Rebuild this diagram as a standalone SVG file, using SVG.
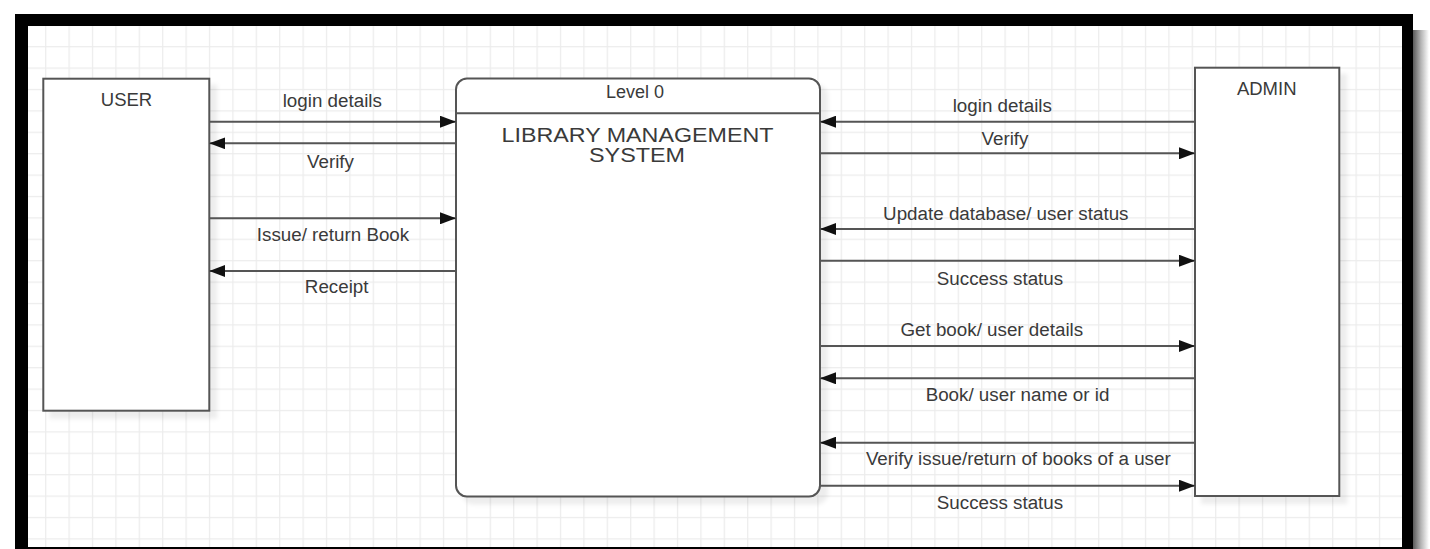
<svg xmlns="http://www.w3.org/2000/svg" width="1430" height="549" viewBox="0 0 1430 549">
  <defs>
    <style>
      .box { fill: #ffffff; stroke: #555555; stroke-width: 2; }
      .flow { fill: none; stroke: #555555; stroke-width: 2; }
      .lbl { font-family: "Liberation Sans", Arial, sans-serif; font-size: 18.8px; fill: #3a3a3a; text-anchor: middle; }
      .title { font-family: "Liberation Sans", Arial, sans-serif; font-size: 20px; fill: #3a3a3a; text-anchor: middle; }
      .ent { font-family: "Liberation Sans", Arial, sans-serif; font-size: 18.5px; fill: #3a3a3a; text-anchor: middle; }
    </style>
    <pattern id="grid" patternUnits="userSpaceOnUse" x="45.1" y="46.1" width="23.4" height="21.4">
      <rect x="0" y="0" width="23.4" height="21.4" fill="#ffffff"/>
      <rect x="0" y="0" width="1.2" height="21.4" fill="#ececec"/>
      <rect x="0" y="0" width="23.4" height="1.2" fill="#ececec"/>
    </pattern>
    <linearGradient id="fshadow" x1="0" y1="0" x2="1" y2="0">
      <stop offset="0" stop-color="#5a5a5a"/>
      <stop offset="0.5" stop-color="#b5b5b5"/>
      <stop offset="1" stop-color="#ffffff"/>
    </linearGradient>
    <filter id="sh" x="-10%" y="-10%" width="130%" height="130%">
      <feDropShadow dx="7" dy="7" stdDeviation="2" flood-color="#000000" flood-opacity="0.07"/>
    </filter>
    <marker id="arr" markerUnits="userSpaceOnUse" markerWidth="16" markerHeight="12" refX="16" refY="6" orient="auto">
      <path d="M0,0 L16,6 L0,12 Z" fill="#111111"/>
    </marker>
  </defs>

  <!-- background and frame -->
  <rect x="0" y="0" width="1430" height="549" fill="#ffffff"/>
  <rect x="1413" y="30" width="16" height="519" fill="url(#fshadow)"/>
  <rect x="15" y="14" width="1398" height="535" fill="#000000"/>
  <rect x="28" y="26" width="1374" height="521" fill="url(#grid)"/>

  <!-- nodes -->
  <g id="user">
    <rect class="box" x="43.3" y="78.7" width="166" height="332" filter="url(#sh)"/>
    <text class="ent" x="126.5" y="106">USER</text>
  </g>

  <g id="system">
    <rect class="box" x="456" y="78.5" width="364" height="418" rx="11" ry="11" filter="url(#sh)"/>
    <line class="flow" x1="456" y1="113.3" x2="820" y2="113.3"/>
    <text class="lbl" x="635" y="98.3" style="font-size:18px">Level 0</text>
    <text class="title" x="637.5" y="141.5" textLength="272" lengthAdjust="spacingAndGlyphs">LIBRARY MANAGEMENT</text>
    <text class="title" x="637" y="162" textLength="96" lengthAdjust="spacingAndGlyphs">SYSTEM</text>
  </g>

  <g id="admin">
    <rect class="box" x="1195" y="67.7" width="144.3" height="428.3" filter="url(#sh)"/>
    <text class="ent" x="1266.7" y="95">ADMIN</text>
  </g>

  <!-- connectors -->
  <g id="connectors">
    <line x1="209.3" y1="121.7" x2="456" y2="121.7" class="flow" marker-end="url(#arr)"/>
    <line x1="456" y1="143.3" x2="209.3" y2="143.3" class="flow" marker-end="url(#arr)"/>
    <line x1="209.3" y1="218.3" x2="456" y2="218.3" class="flow" marker-end="url(#arr)"/>
    <line x1="456" y1="271" x2="209.3" y2="271" class="flow" marker-end="url(#arr)"/>

    <line x1="1195" y1="121.7" x2="820" y2="121.7" class="flow" marker-end="url(#arr)"/>
    <line x1="820" y1="153.3" x2="1195" y2="153.3" class="flow" marker-end="url(#arr)"/>
    <line x1="1195" y1="229" x2="820" y2="229" class="flow" marker-end="url(#arr)"/>
    <line x1="820" y1="260.7" x2="1195" y2="260.7" class="flow" marker-end="url(#arr)"/>
    <line x1="820" y1="346" x2="1195" y2="346" class="flow" marker-end="url(#arr)"/>
    <line x1="1195" y1="378.3" x2="820" y2="378.3" class="flow" marker-end="url(#arr)"/>
    <line x1="1195" y1="442.7" x2="820" y2="442.7" class="flow" marker-end="url(#arr)"/>
    <line x1="820" y1="485.7" x2="1195" y2="485.7" class="flow" marker-end="url(#arr)"/>

    <text class="lbl" x="332.3" y="107.3">login details</text>
    <text class="lbl" x="330.5" y="168">Verify</text>
    <text class="lbl" x="333" y="240.7">Issue/ return Book</text>
    <text class="lbl" x="336.7" y="293">Receipt</text>

    <text class="lbl" x="1002.3" y="111.7">login details</text>
    <text class="lbl" x="1005" y="145">Verify</text>
    <text class="lbl" x="1005.8" y="220">Update database/ user status</text>
    <text class="lbl" x="1000" y="285">Success status</text>
    <text class="lbl" x="991.8" y="336">Get book/ user details</text>
    <text class="lbl" x="1017.5" y="400.7">Book/ user name or id</text>
    <text class="lbl" x="1018.3" y="465">Verify issue/return of books of a user</text>
    <text class="lbl" x="1000" y="509.3">Success status</text>
  </g>
</svg>
